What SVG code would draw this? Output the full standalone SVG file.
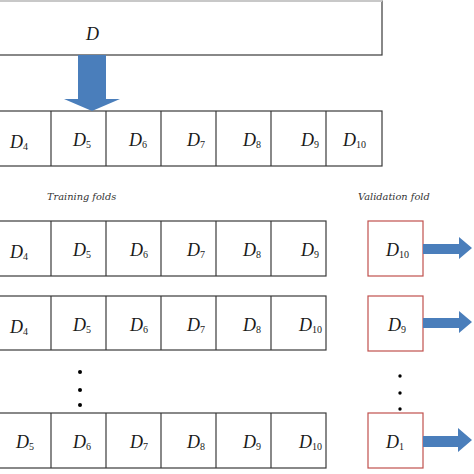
<svg xmlns="http://www.w3.org/2000/svg" width="474" height="474" viewBox="0 0 474 474">
<defs>
<style>
.cell{fill:#fff;stroke:#3a3a3a;stroke-width:1.2}
.val{fill:#fff;stroke:#c0504d;stroke-width:1.2}
.lbl{font-family:"Liberation Serif","Times New Roman",serif;font-size:18px;fill:#1a1a1a}
.d{font-style:italic}
.sub{font-size:10px;font-style:normal}
.cap{font-family:"DejaVu Serif","Liberation Serif",serif;font-style:italic;font-size:9.8px;fill:#333}
.arr{fill:#4a7ebb}
.dot{fill:#000}
</style>
</defs>
<rect width="474" height="474" fill="#fff"/>
<g id="D">
<rect x="-5" y="1" width="387" height="54" class="cell"/>
<line x1="0" y1="1" x2="382" y2="1" stroke="#c8c8c8" stroke-width="2"/>
<text x="86" y="40" class="lbl d">D</text>
</g>
<g id="row1">
<rect x="-5" y="111" width="387" height="55" class="cell"/>
<line x1="51" y1="111" x2="51" y2="166" class="cell"/>
<line x1="106" y1="111" x2="106" y2="166" class="cell"/>
<line x1="161" y1="111" x2="161" y2="166" class="cell"/>
<line x1="216" y1="111" x2="216" y2="166" class="cell"/>
<line x1="271" y1="111" x2="271" y2="166" class="cell"/>
<line x1="326" y1="111" x2="326" y2="166" class="cell"/>
<text x="10" y="148" class="lbl"><tspan class="d">D</tspan><tspan class="sub" dy="2">4</tspan></text>
<text x="73" y="146" class="lbl"><tspan class="d">D</tspan><tspan class="sub" dy="2">5</tspan></text>
<text x="129" y="146" class="lbl"><tspan class="d">D</tspan><tspan class="sub" dy="2">6</tspan></text>
<text x="187" y="146" class="lbl"><tspan class="d">D</tspan><tspan class="sub" dy="2">7</tspan></text>
<text x="243" y="146" class="lbl"><tspan class="d">D</tspan><tspan class="sub" dy="2">8</tspan></text>
<text x="301" y="146" class="lbl"><tspan class="d">D</tspan><tspan class="sub" dy="2">9</tspan></text>
<text x="343" y="146" class="lbl"><tspan class="d">D</tspan><tspan class="sub" dy="2">10</tspan></text>
</g>
<text x="47" y="200" class="cap">Training folds</text>
<text x="358" y="200" class="cap">Validation fold</text>
<g id="row2">
<rect x="-5" y="221" width="331" height="55" class="cell"/>
<line x1="51" y1="221" x2="51" y2="276" class="cell"/>
<line x1="106" y1="221" x2="106" y2="276" class="cell"/>
<line x1="161" y1="221" x2="161" y2="276" class="cell"/>
<line x1="216" y1="221" x2="216" y2="276" class="cell"/>
<line x1="271" y1="221" x2="271" y2="276" class="cell"/>
<text x="10" y="258" class="lbl"><tspan class="d">D</tspan><tspan class="sub" dy="2">4</tspan></text>
<text x="73" y="256" class="lbl"><tspan class="d">D</tspan><tspan class="sub" dy="2">5</tspan></text>
<text x="130" y="256" class="lbl"><tspan class="d">D</tspan><tspan class="sub" dy="2">6</tspan></text>
<text x="187" y="256" class="lbl"><tspan class="d">D</tspan><tspan class="sub" dy="2">7</tspan></text>
<text x="243" y="256" class="lbl"><tspan class="d">D</tspan><tspan class="sub" dy="2">8</tspan></text>
<text x="301" y="256" class="lbl"><tspan class="d">D</tspan><tspan class="sub" dy="2">9</tspan></text>
</g>
<g id="val2">
<rect x="368" y="221" width="55" height="55" class="val"/>
<text x="386" y="256" class="lbl"><tspan class="d">D</tspan><tspan class="sub" dy="2">10</tspan></text>
</g>
<g id="row3">
<rect x="-5" y="296" width="331" height="54" class="cell"/>
<line x1="51" y1="296" x2="51" y2="350" class="cell"/>
<line x1="106" y1="296" x2="106" y2="350" class="cell"/>
<line x1="161" y1="296" x2="161" y2="350" class="cell"/>
<line x1="216" y1="296" x2="216" y2="350" class="cell"/>
<line x1="271" y1="296" x2="271" y2="350" class="cell"/>
<text x="10" y="333" class="lbl"><tspan class="d">D</tspan><tspan class="sub" dy="2">4</tspan></text>
<text x="73" y="331" class="lbl"><tspan class="d">D</tspan><tspan class="sub" dy="2">5</tspan></text>
<text x="130" y="331" class="lbl"><tspan class="d">D</tspan><tspan class="sub" dy="2">6</tspan></text>
<text x="187" y="331" class="lbl"><tspan class="d">D</tspan><tspan class="sub" dy="2">7</tspan></text>
<text x="243" y="331" class="lbl"><tspan class="d">D</tspan><tspan class="sub" dy="2">8</tspan></text>
<text x="299" y="331" class="lbl"><tspan class="d">D</tspan><tspan class="sub" dy="2">10</tspan></text>
</g>
<g id="val3">
<rect x="368" y="296" width="55" height="55" class="val"/>
<text x="388" y="331" class="lbl"><tspan class="d">D</tspan><tspan class="sub" dy="2">9</tspan></text>
</g>
<g id="row4">
<rect x="-5" y="413" width="331" height="55" class="cell"/>
<line x1="51" y1="413" x2="51" y2="468" class="cell"/>
<line x1="106" y1="413" x2="106" y2="468" class="cell"/>
<line x1="161" y1="413" x2="161" y2="468" class="cell"/>
<line x1="216" y1="413" x2="216" y2="468" class="cell"/>
<line x1="271" y1="413" x2="271" y2="468" class="cell"/>
<text x="16" y="448" class="lbl"><tspan class="d">D</tspan><tspan class="sub" dy="2">5</tspan></text>
<text x="73" y="448" class="lbl"><tspan class="d">D</tspan><tspan class="sub" dy="2">6</tspan></text>
<text x="130" y="448" class="lbl"><tspan class="d">D</tspan><tspan class="sub" dy="2">7</tspan></text>
<text x="187" y="448" class="lbl"><tspan class="d">D</tspan><tspan class="sub" dy="2">8</tspan></text>
<text x="243" y="448" class="lbl"><tspan class="d">D</tspan><tspan class="sub" dy="2">9</tspan></text>
<text x="299" y="448" class="lbl"><tspan class="d">D</tspan><tspan class="sub" dy="2">10</tspan></text>
</g>
<g id="val4">
<rect x="368" y="413" width="55" height="55" class="val"/>
<text x="386" y="448" class="lbl"><tspan class="d">D</tspan><tspan class="sub" dy="2">1</tspan></text>
</g>
<g id="dots">
<circle cx="80" cy="372" r="2" class="dot"/>
<circle cx="80" cy="390" r="2" class="dot"/>
<circle cx="80" cy="405" r="2" class="dot"/>
<circle cx="400" cy="376" r="1.7" class="dot"/>
<circle cx="400" cy="393" r="1.7" class="dot"/>
<circle cx="400" cy="409" r="1.7" class="dot"/>
</g>
<g id="connectors">
<polygon points="78,55 106,55 106,99 120,99 92,111 64,99 78,99" class="arr"/>
<polygon points="423,244 459,244 459,237 472,248 459,259 459,254 423,254" class="arr"/>
<polygon points="423,318 459,318 459,311 472,322 459,333 459,328 423,328" class="arr"/>
<polygon points="423,436 458,436 458,428 472,440 458,452 458,447 423,447" class="arr"/>
</g>
</svg>
